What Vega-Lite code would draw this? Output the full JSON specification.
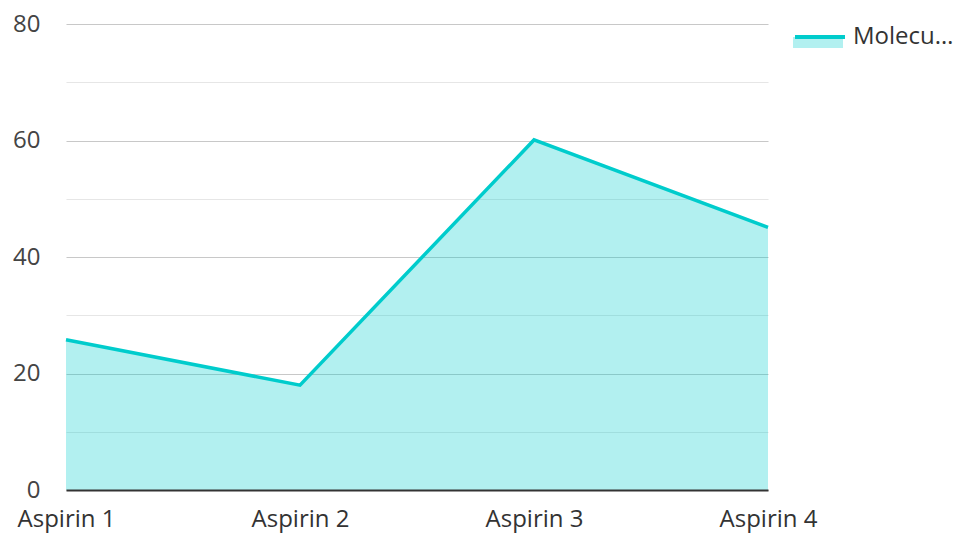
{
  "$schema": "https://vega.github.io/schema/vega-lite/v6.json",
  "width": 702,
  "height": 466,
  "autosize": {"type": "none"},
  "padding": {"left": 66, "top": 24, "right": 190, "bottom": 43},
  "background": "white",
  "config": {
    "view": {"stroke": null},
    "font": "Open Sans"
  },
  "data": {
    "values": [
      {"drug": "Aspirin 1", "value": 25.8, "areaSeries": "Molecular weight", "lineSeries": "Molecular weight"},
      {"drug": "Aspirin 2", "value": 18.0, "areaSeries": "Molecular weight", "lineSeries": "Molecular weight"},
      {"drug": "Aspirin 3", "value": 60.1, "areaSeries": "Molecular weight", "lineSeries": "Molecular weight"},
      {"drug": "Aspirin 4", "value": 45.1, "areaSeries": "Molecular weight", "lineSeries": "Molecular weight"}
    ]
  },
  "encoding": {
    "x": {
      "field": "drug",
      "type": "ordinal",
      "scale": {"type": "point", "padding": 0},
      "axis": {
        "title": null,
        "labelAngle": 0,
        "labelFontSize": 24,
        "labelColor": "#333333",
        "labelPadding": 17,
        "ticks": false,
        "domainColor": "#333333",
        "domainWidth": 2,
        "labelFlush": false,
        "zindex": 1
      }
    },
    "y": {
      "field": "value",
      "type": "quantitative",
      "scale": {"domain": [0, 80], "nice": false},
      "axis": {
        "title": null,
        "values": [0, 10, 20, 30, 40, 50, 60, 70, 80],
        "labelExpr": "datum.value % 20 === 0 ? datum.label : ''",
        "labelFontSize": 24,
        "labelColor": "#444444",
        "labelPadding": 26,
        "ticks": false,
        "domain": false,
        "gridColor": {"condition": {"test": "datum.value % 20 === 0", "value": "#c8c8c8"}, "value": "#e6e6e6"},
        "gridWidth": 1.2
      }
    }
  },
  "layer": [
    {
      "mark": {"type": "area", "fillOpacity": 0.3},
      "encoding": {
        "fill": {
          "field": "areaSeries",
          "type": "nominal",
          "scale": {"range": ["#00cccc"]},
          "legend": {
            "title": null,
            "orient": "none",
            "legendX": 727,
            "legendY": -14,
            "symbolType": "M-1,0.08H1V0.52H-1Z",
            "symbolSize": 2500,
            "symbolOpacity": 0.3,
            "symbolStrokeWidth": 0,
            "labelFontSize": 24,
            "labelExpr": "''",
            "labelLimit": 100,
            "labelOffset": 6
          }
        }
      }
    },
    {
      "mark": {"type": "line", "strokeWidth": 3.5},
      "encoding": {
        "stroke": {
          "field": "lineSeries",
          "type": "nominal",
          "scale": {"range": ["#00cccc"]},
          "legend": {
            "title": null,
            "orient": "none",
            "legendX": 727,
            "legendY": -14,
            "symbolType": "M-1,0H1",
            "symbolSize": 2500,
            "symbolStrokeWidth": 4,
            "labelFontSize": 24,
            "labelColor": "#333333",
            "labelLimit": 102,
            "labelOffset": 6
          }
        }
      }
    }
  ]
}
